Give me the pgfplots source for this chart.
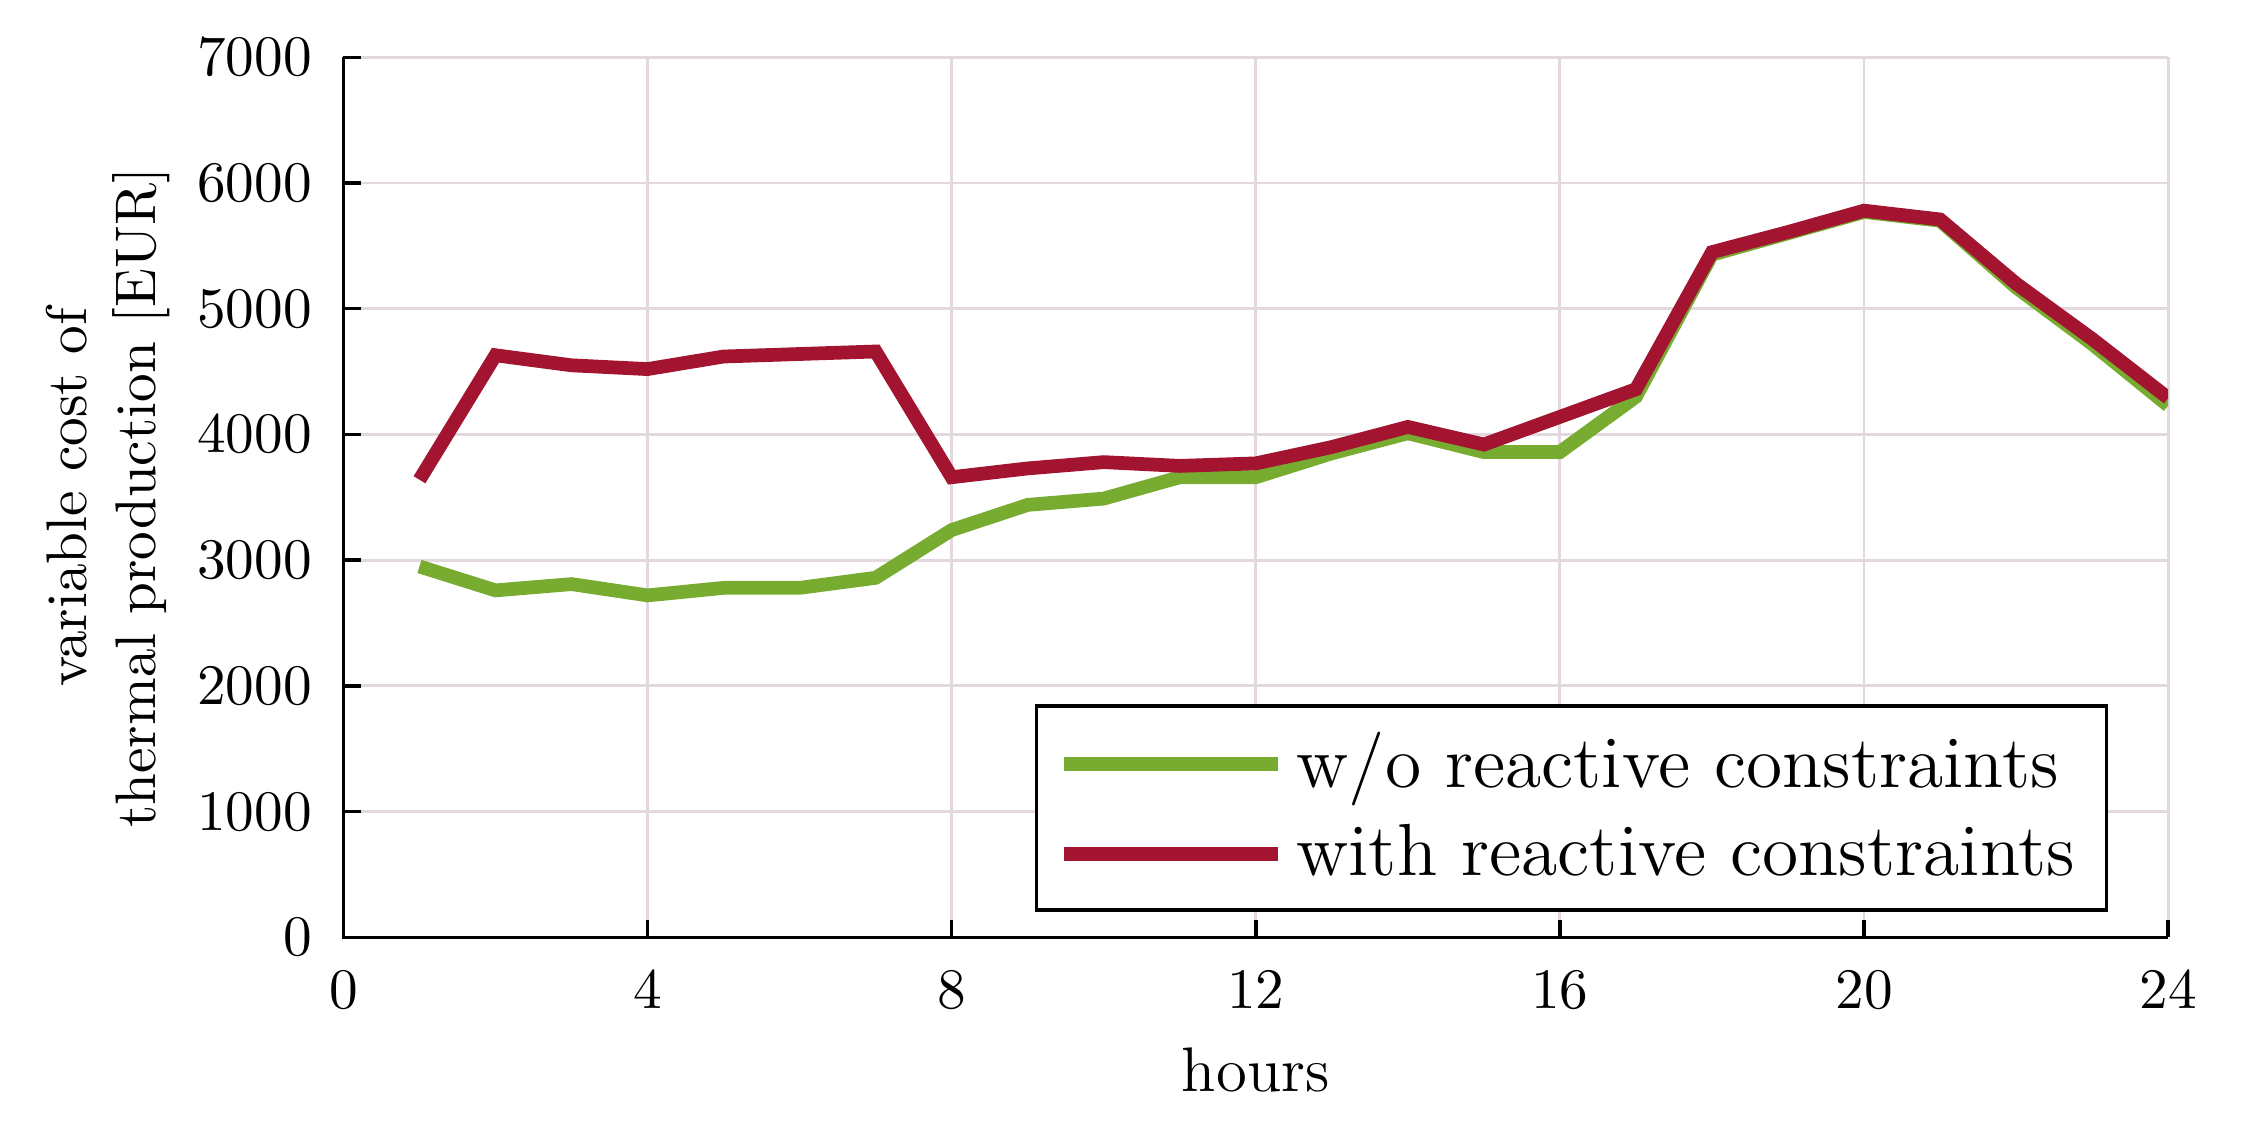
\documentclass[border=0pt]{standalone}
\usepackage{pgfplots}
\usepackage{pgfplotstable}
\pgfplotsset{compat=1.18}
\definecolor{mgreen}{rgb}{0.466,0.674,0.188}
\definecolor{mred}{rgb}{0.635,0.078,0.184}
\definecolor{gridc}{RGB}{226,216,221}
\pgfplotstableread{
h   g     r
1   2950  3640
2   2760  4630
3   2810  4550
4   2720  4520
5   2780  4620
6   2780  4640
7   2860  4660
8   3240  3660
9   3440  3730
10  3490  3780
11  3660  3750
12  3660  3770
13  3850  3900
14  4010  4060
15  3860  3920
16  3860  4140
17  4300  4360
18  5430  5450
19  5600  5610
20  5770  5780
21  5700  5710
22  5170  5200
23  4720  4760
24  4230  4290
}\datatab
\begin{document}
\begin{tikzpicture}
\path[use as bounding box] (-60pt,-34.75pt) rectangle (332pt,163.75pt);
\begin{axis}[
  scale only axis,
  width=318.75pt, height=153.75pt,
  at={(0pt,0pt)}, anchor=south west,
  xmin=0, xmax=24, ymin=0, ymax=7000,
  xtick={0,4,...,24},
  ytick={0,1000,...,7000},
  /pgf/number format/1000 sep={},
  grid=major,
  major grid style={gridc, line width=0.5pt},
  axis line style={draw=none},
  tick pos=left,
  tick align=inside,
  major tick length=3pt,
  tick style={black, line width=0.6pt},
  yticklabel style={xshift=-2pt},
  xticklabel style={yshift=-2.5pt},
  xlabel={hours},
  xlabel style={font=\fontsize{11}{13}\selectfont},
  ylabel={variable cost of\\thermal production [EUR]},
  ylabel style={align=center},
  ylabel shift=-2pt,
  legend style={at={(rel axis cs:1,0)}, xshift=-10.5pt, yshift=4.5pt,
    anchor=south east, draw=black, line width=0.6pt,
    font=\fontsize{12.9}{16}\selectfont, inner xsep=3.5pt, inner ysep=2.5pt,
    row sep=1pt},
  legend cell align=left,
  legend image code/.code={\draw[#1] (0pt,0pt) -- (37.5pt,0pt);},
  extra description/.code={
    \draw[black, line width=0.6pt] (0,1) -- (0,0) -- (1,0);
  },
]
\addplot[mgreen, line width=2.4pt] table[x=h, y=g] {\datatab};
\addlegendentry{w/o reactive constraints}
\addplot[mred, line width=2.4pt] table[x=h, y=r] {\datatab};
\addlegendentry{with reactive constraints}
\end{axis}
\end{tikzpicture}
\end{document}
